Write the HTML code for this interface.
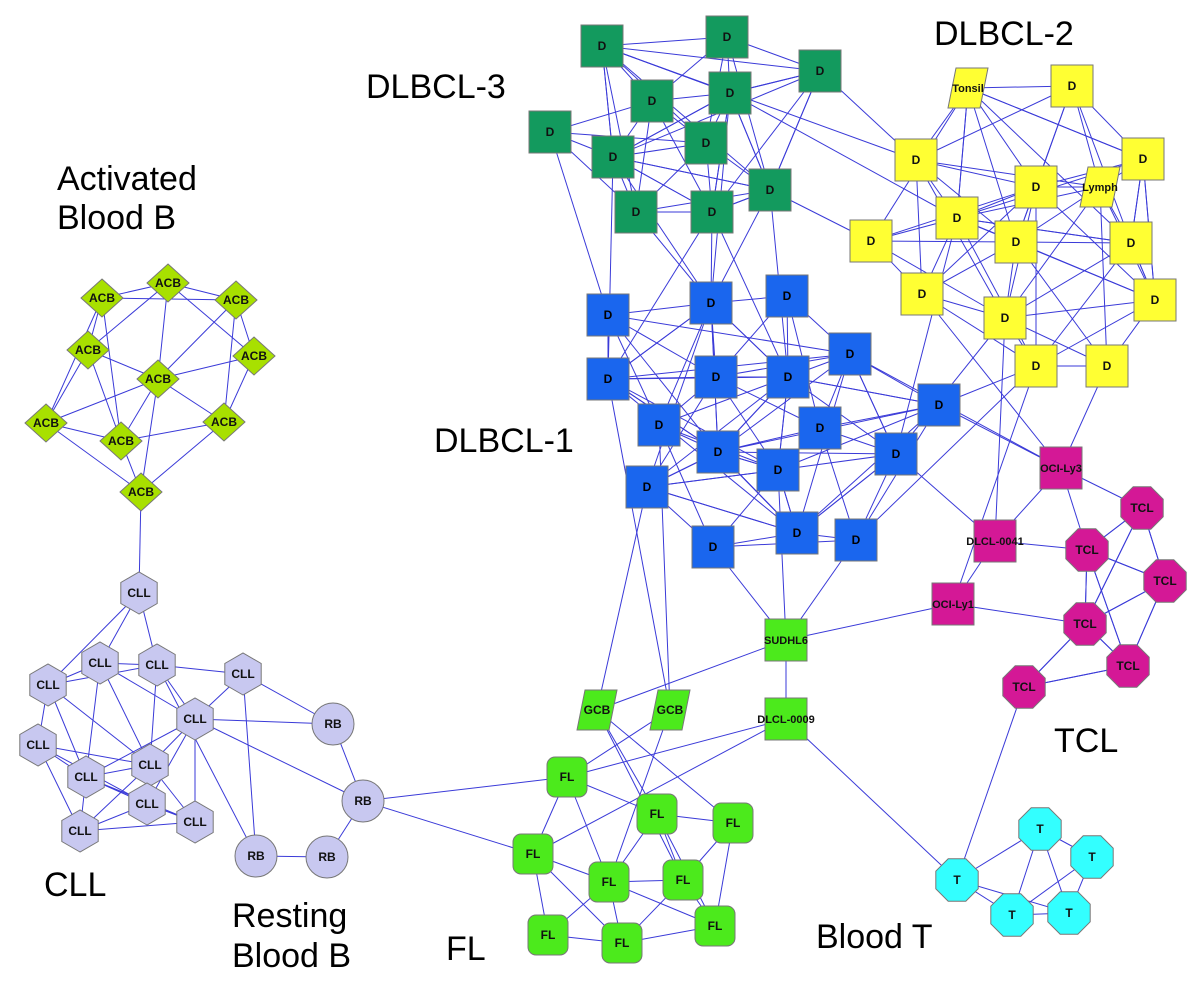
<!DOCTYPE html>
<html><head><meta charset="utf-8"><style>
html,body{margin:0;padding:0;background:#fff;}
svg{display:block;}
text{font-family:"Liberation Sans",sans-serif;}
</style></head><body>
<svg id="s" width="1200" height="983" viewBox="0 0 1200 983" xmlns="http://www.w3.org/2000/svg">
<g id="edges" stroke="#3a3ad8" stroke-width="1"></g>
<g id="nodes"></g>
<g font-size="34" fill="#000">
<text x="366" y="98">DLBCL-3</text>
<text x="934" y="45">DLBCL-2</text>
<text x="57" y="190">Activated</text>
<text x="57" y="229">Blood B</text>
<text x="434" y="452">DLBCL-1</text>
<text x="1054" y="752">TCL</text>
<text x="44" y="896">CLL</text>
<text x="232" y="927">Resting</text>
<text x="232" y="967">Blood B</text>
<text x="446" y="960">FL</text>
<text x="816" y="948">Blood T</text>
</g>
</svg>
<script>
const N=[];
function add(c,t,x,y,l){N.push({c,t,x,y,l});return N.length-1;}
const d3=[[602,46],[727,37],[820,71],[652,101],[730,93],[550,132],[613,157],[706,143],[770,190],[636,212],[712,212]].map(p=>add('d3','sq',p[0],p[1],'D'));
const d2=[[968,88,'Tonsil','pg'],[1072,86,'D'],[916,160,'D'],[1143,159,'D'],[1036,187,'D'],[1100,187,'Lymph','pg'],[957,218,'D'],[871,241,'D'],[1016,242,'D'],[1131,243,'D'],[922,294,'D'],[1005,318,'D'],[1155,300,'D'],[1036,366,'D'],[1107,366,'D']].map(p=>add('d2',p[3]||'sq',p[0],p[1],p[2]));
const d1=[[608,315],[711,303],[787,296],[608,379],[716,377],[788,377],[850,354],[939,405],[659,425],[718,452],[820,428],[778,470],[896,454],[647,487],[713,547],[797,533],[856,540]].map(p=>add('d1','sq',p[0],p[1],'D'));
const tm=[[1061,468,'OCI-Ly3'],[995,541,'DLCL-0041'],[953,604,'OCI-Ly1']].map(p=>add('tm','sq',p[0],p[1],p[2]));
const tc=[[1142,508],[1087,550],[1165,581],[1085,624],[1024,687],[1128,666]].map(p=>add('tc','oct',p[0],p[1],'TCL'));
const g1=add('g','sq',786,640,'SUDHL6'),gc1=add('g','pg',597,710,'GCB'),gc2=add('g','pg',670,710,'GCB'),g2=add('g','sq',786,719,'DLCL-0009');
const fl=[[567,777],[657,814],[733,823],[533,854],[609,882],[683,880],[548,935],[622,943],[715,926]].map(p=>add('fl','rr',p[0],p[1],'FL'));
const bt=[[1040,829],[1092,857],[957,880],[1069,913],[1012,915]].map(p=>add('bt','oct2',p[0],p[1],'T'));
const cl=[[139,593],[100,663],[157,665],[243,674],[48,685],[195,719],[38,745],[86,777],[150,765],[147,804],[80,831],[195,822]].map(p=>add('cl','hex',p[0],p[1],'CLL'));
const rb=[[333,724],[363,801],[256,856],[327,857]].map(p=>add('rb','cir',p[0],p[1],'RB'));
const ac=[[102,298],[168,283],[236,300],[254,356],[88,350],[158,379],[224,422],[46,423],[121,441],[141,492]].map(p=>add('ac','dia',p[0],p[1],'ACB'));
const E=[];
function within(arr,th){for(let i=0;i<arr.length;i++)for(let j=i+1;j<arr.length;j++){const a=N[arr[i]],b=N[arr[j]];const dd=Math.hypot(a.x-b.x,a.y-b.y);if(dd<th&&((i*7+j*3)%5!=0))E.push([arr[i],arr[j]]);}}
within(d3,170);within(d2,190);within(d1,160);within(tc,140);within(fl,130);within(bt,130);within(cl,130);within(ac,150);
within([...rb],120);
within([...tm,...tc],140);
within([...d3,...d1].filter((_,i)=>i%2==0),230);
within([...d2,...d1].filter((_,i)=>i%3==0),260);
E.push([ac[9],cl[0]],[rb[1],fl[0]],[rb[1],fl[3]],[cl[3],rb[0]],[cl[5],rb[0]],[cl[3],rb[2]],[cl[5],rb[1]],[cl[2],rb[2]],
[g1,tm[2]],[g1,d1[14]],[g1,d1[16]],[g1,d1[11]],[g1,gc1],[g1,g2],[gc1,d1[13]],[gc2,d1[8]],[gc2,d1[3]],[gc1,fl[1]],[gc2,fl[4]],[gc1,fl[5]],[gc2,fl[0]],[gc1,fl[2]],
[g2,fl[0]],[g2,bt[2]],[g2,fl[3]],[tm[0],d1[7]],[tm[0],d2[10]],[tm[0],d2[14]],[tm[0],d1[6]],[tm[1],d1[12]],[tm[4-2],d2[13]],[tc[4],bt[2]],[tm[1],d2[11]],
[d1[16],d2[13]],[d1[12],d2[11]],[d1[7],d2[13]],[d3[0],d2[2]],[d3[2],d2[2]],[d3[5],d1[0]],[d3[9],d1[1]],[d3[8],d2[7]],[d3[4],d2[6]]);
const eg=document.getElementById('edges');let h='';
E.forEach(([a,b])=>{h+=`<line x1="${N[a].x}" y1="${N[a].y}" x2="${N[b].x}" y2="${N[b].y}"/>`;});eg.innerHTML=h;
const col={d3:'#139a5e',d2:'#ffff33',d1:'#1a66ee',tm:'#d41896',tc:'#d41896',g:'#4cea1c',fl:'#4cea1c',bt:'#33ffff',cl:'#c8c8f0',rb:'#c8c8f0',ac:'#a8e000'};
let s='';
function poly(n,r,x,y,rot){let p=[];for(let i=0;i<n;i++){const a=rot+i*2*Math.PI/n;p.push((x+r*Math.cos(a)).toFixed(1)+','+(y+r*Math.sin(a)).toFixed(1));}return p.join(' ');}
N.forEach(n=>{const f=col[n.c],st='stroke="#777" stroke-width="1"';const x=n.x,y=n.y;
if(n.t=='sq')s+=`<rect x="${x-21}" y="${y-21}" width="42" height="42" fill="${f}" ${st}/>`;
else if(n.t=='pg')s+=`<polygon points="${x-12},${y-20} ${x+20},${y-20} ${x+12},${y+20} ${x-20},${y+20}" fill="${f}" ${st}/>`;
else if(n.t=='rr')s+=`<rect x="${x-20}" y="${y-20}" width="40" height="40" rx="8" fill="${f}" ${st}/>`;
else if(n.t=='oct')s+=`<polygon points="${poly(8,23,x,y,Math.PI/8)}" fill="${f}" ${st}/>`;
else if(n.t=='oct2')s+=`<polygon points="${poly(8,23,x,y,Math.PI/8)}" fill="${f}" ${st}/>`;
else if(n.t=='hex')s+=`<polygon points="${poly(6,21,x,y,Math.PI/2)}" fill="${f}" ${st}/>`;
else if(n.t=='cir')s+=`<circle cx="${x}" cy="${y}" r="21" fill="${f}" ${st}/>`;
else if(n.t=='dia')s+=`<polygon points="${x},${y-19} ${x+21},${y} ${x},${y+19} ${x-21},${y}" fill="${f}" ${st}/>`;
const fs=n.l.length>4?11:12;const fc=(n.c=='d1')?'#000':'#111';
s+=`<text x="${x}" y="${y+4}" text-anchor="middle" font-size="${fs}" font-weight="bold" fill="${fc}">${n.l}</text>`;});
document.getElementById('nodes').innerHTML=s;
</script>
</body></html>
